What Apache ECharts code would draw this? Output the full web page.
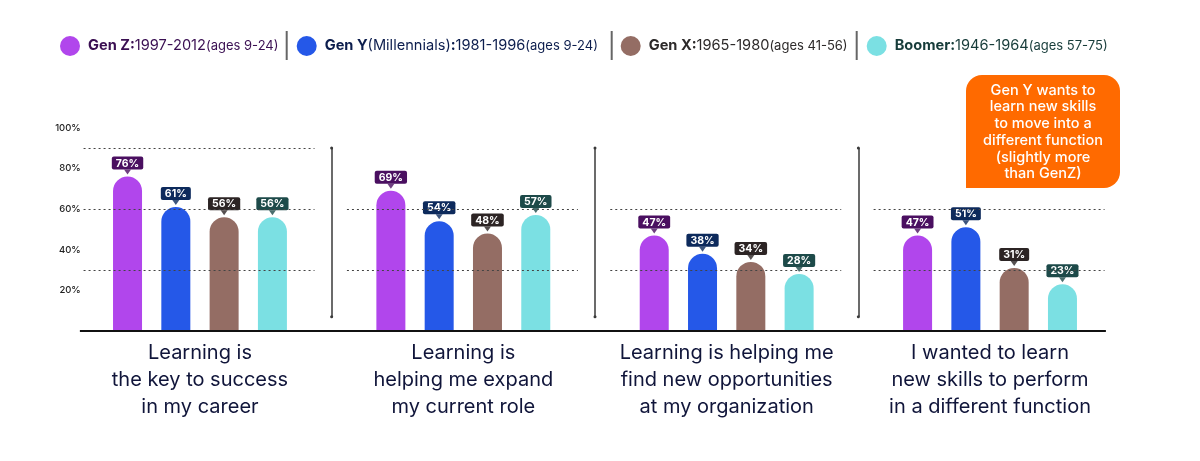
<!DOCTYPE html>
<html>
<head>
<meta charset="utf-8">
<script src="https://cdn.jsdelivr.net/npm/echarts@6/dist/echarts.min.js"></script>
<style>
html,body{margin:0;padding:0;background:#fff;}
#chart{width:1200px;height:461px;}
</style>
</head>
<body>
<div id="chart"></div>
<script>
// ---------- data ----------
const genNames = ['Gen Z', 'Gen Y', 'Gen X', 'Boomer'];
const groupLabels = [
  'Learning is\nthe key to success\nin my career',
  'Learning is\nhelping me expand\nmy current role',
  'Learning is helping me\nfind new opportunities\nat my organization',
  'I wanted to learn\nnew skills to perform\nin a different function'
];
const genZ = [76, 69, 47, 47];
const genY = [61, 54, 38, 51];
const genX = [56, 48, 34, 31];
const boomer = [56, 57, 28, 23];
const gridLevels = [[90, 60, 30], [60, 30], [60, 30], [60, 30]];
const legendYears = ['1997-2012', '1981-1996', '1965-1980', '1946-1964'];
const legendAges = ['(ages 9-24)', '(ages 9-24)', '(ages 41-56)', '(ages 57-75)'];
const noteLines = ['Gen Y wants to', 'learn new skills', 'to move into a', 'different function', '(slightly more', 'than GenZ)'];

// ---------- styles ----------
const barColors = ['#b146ec', '#2558e8', '#946d64', '#7be0e3'];
const tagColors = ['#4a0f60', '#0d2a5c', '#2c2424', '#1d4a49'];
const legendTextColors = ['#3a0f52', '#0c1d4d', '#2d2a2a', '#173c3a'];
const FONT = 'Inter, "Open Sans", sans-serif';
const seriesValues = [genZ, genY, genX, boomer];
const barStep = 0.1834;      // spacing between bars inside a group (group units)

function pts(vals, i) {
  return vals.map((v, g) => [g + (i - 1.5) * barStep, v]);
}

const series = [];
genNames.forEach((name, i) => {
  series.push({
    name: name,
    type: 'bar',
    xAxisIndex: 0,
    stack: 'one',
    barWidth: 29,
    data: pts(seriesValues[i], i),
    itemStyle: { color: barColors[i], borderRadius: [15, 15, 0, 0] },
    label: {
      show: true, position: 'top', distance: 7,
      formatter: p => p.value[1] + '%',
      color: '#fff', fontSize: 10.5, fontWeight: 'bold', fontFamily: FONT,
      backgroundColor: tagColors[i], padding: [2, 4, 1, 4], borderRadius: 2, lineHeight: 10
    },
    z: 2
  });
  series.push({
    name: name + ' tag',
    type: 'scatter',
    xAxisIndex: 0,
    data: pts(seriesValues[i], i),
    symbol: 'triangle', symbolRotate: 180, symbolSize: [7, 5], symbolOffset: [0, -4.5],
    itemStyle: { color: tagColors[i] },
    silent: true, z: 3
  });
});

// guide lines (dotted levels, separators, baseline)
const mlData = [];
gridLevels.forEach((levels, g) => {
  levels.forEach(lv => {
    mlData.push([
      { coord: [g - 0.442, lv], symbol: 'none', lineStyle: { type: [2, 3], color: '#444', width: 1 } },
      { coord: [g + 0.435, lv], symbol: 'none' }
    ]);
  });
});
for (let g = 0; g < 3; g++) {
  mlData.push([
    { coord: [g + 0.5, 90], symbol: 'circle', symbolSize: 3, lineStyle: { type: 'solid', color: '#3a3a3a', width: 1.5 } },
    { coord: [g + 0.5, 7], symbol: 'circle', symbolSize: 3 }
  ]);
}
mlData.push([
  { coord: [-0.456, 0], symbol: 'none', lineStyle: { type: 'solid', color: '#111', width: 2 } },
  { coord: [3.44, 0], symbol: 'none' }
]);
series.push({
  name: 'guides', type: 'scatter', xAxisIndex: 0, data: [], silent: true,
  markLine: { silent: true, symbol: 'none', label: { show: false }, animation: false, data: mlData },
  z: 1
});

// legends
const legendLeft = [60, 296.7, 620.7, 866.7];
const legends = genNames.map((name, i) => ({
  data: [name],
  left: legendLeft[i], top: 36, padding: 0,
  icon: 'circle', itemWidth: 20, itemHeight: 20,
  selectedMode: false,
  formatter: n => {
    if (n === 'Gen Y') return '{b|Gen Y}{r|(Millennials)}{b|:}{r|' + legendYears[i] + '}{s|' + legendAges[i] + '}';
    return '{b|' + n + ':}{r|' + legendYears[i] + '}{s|' + legendAges[i] + '}';
  },
  textStyle: {
    padding: [0, 0, 0, 3],
    rich: {
      b: { fontFamily: FONT, fontWeight: 'bold', fontSize: 14.6, color: legendTextColors[i] },
      r: { fontFamily: FONT, fontSize: 14.6, color: legendTextColors[i] },
      s: { fontFamily: FONT, fontSize: 13, color: legendTextColors[i] }
    }
  }
}));

const sepX = [286.7, 611.7, 856.7];
const graphics = sepX.map(x => ({
  type: 'line', shape: { x1: x, y1: 31, x2: x, y2: 60 },
  style: { stroke: '#666', lineWidth: 2 }, silent: true
}));
graphics.push({
  type: 'group', silent: true,
  children: [
    { type: 'rect', shape: { x: 966, y: 75, width: 154, height: 113, r: [16, 16, 16, 0] }, style: { fill: '#ff6a00' } },
    { type: 'text', x: 1043, y: 82,
      style: { text: noteLines.join('\n'), fill: '#fff', font: '500 14.5px ' + FONT, lineHeight: 16.7, textAlign: 'center', textVerticalAlign: 'top' } }
  ]
});

const option = {
  animation: false,
  backgroundColor: '#fff',
  textStyle: { fontFamily: FONT },
  legend: legends,
  grid: { left: 68.3, right: 78.3, top: 127.7, bottom: 130, containLabel: false },
  xAxis: [
    { type: 'value', min: -0.5, max: 3.5, show: false },
    {
      type: 'category', data: groupLabels, position: 'bottom', boundaryGap: true,
      axisLine: { show: false }, axisTick: { show: false }, splitLine: { show: false },
      axisLabel: { interval: 0, fontSize: 20, lineHeight: 27, color: '#10153a', margin: 8, fontFamily: FONT }
    }
  ],
  yAxis: {
    type: 'value', min: 0, max: 100, interval: 20, offset: -14.5,
    axisLine: { show: false }, axisTick: { show: false }, splitLine: { show: false },
    axisLabel: { formatter: v => v === 0 ? '' : v + '%', fontSize: 9.5, fontWeight: 500, color: '#222', margin: 2, fontFamily: FONT }
  },
  graphic: graphics,
  series: series
};

const chart = echarts.init(document.getElementById('chart'), null, { renderer: 'canvas' });
chart.setOption(option);
</script>
</body>
</html>
